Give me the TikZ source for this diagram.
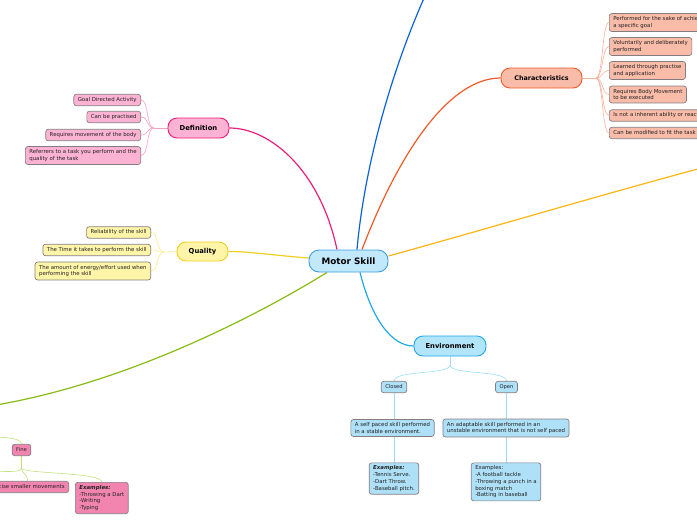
\documentclass[tikz,border=0pt]{standalone}
\usepackage{fontspec}
\setmainfont{DejaVu Sans}
\pgfdeclarelayer{bg}
\pgfsetlayers{bg,main}
\definecolor{msfill}{HTML}{C2E8FB}
\definecolor{msdraw}{HTML}{3D9EE0}
\definecolor{deffill}{HTML}{FCB3D3}
\definecolor{defdraw}{HTML}{EC1E79}
\definecolor{defsub}{HTML}{F9A0C8}
\definecolor{chfill}{HTML}{F9BCA8}
\definecolor{chdraw}{HTML}{F05A28}
\definecolor{chsub}{HTML}{F9B09A}
\definecolor{qfill}{HTML}{FFF5A8}
\definecolor{qdraw}{HTML}{EFCF1F}
\definecolor{qsub}{HTML}{FBE98E}
\definecolor{envfill}{HTML}{B2E5FA}
\definecolor{envdraw}{HTML}{1EA8E8}
\definecolor{envsub}{HTML}{9EDCF7}
\definecolor{envleaf}{HTML}{AEE0F7}
\definecolor{blueline}{HTML}{0B62D6}
\definecolor{orangeline}{HTML}{FDB514}
\definecolor{greenline}{HTML}{88BB14}
\definecolor{finesub}{HTML}{C5E07A}
\definecolor{finefill}{HTML}{F285B0}
\definecolor{leafgray}{HTML}{857C80}
\definecolor{textgray}{HTML}{222222}
\begin{document}
\begin{tikzpicture}[x=1pt,y=-1pt,
  topic/.style={draw, line width=0.9pt, rounded corners=9pt, inner sep=0pt,
    font=\bfseries\fontsize{6.8}{8}\selectfont, text=black},
  leafa/.style={draw=leafgray, line width=0.7pt, rounded corners=2.5pt,
    font=\fontsize{5.4}{6.7}\selectfont, text=textgray, inner xsep=4pt, inner ysep=3pt,
    text height=4.1pt, text depth=1.3pt},
  leafb/.style={draw=leafgray, line width=0.7pt, rounded corners=2.5pt,
    font=\fontsize{5.4}{6.7}\selectfont, text=textgray, inner xsep=4pt, inner ysep=3pt,
    align=left},
  mainline/.style={line width=1.2pt},
  subline/.style={line width=0.6pt}
]
\useasboundingbox (0,0) rectangle (697,520);
\clip (0,0) rectangle (697,520);

% central
\node[topic, fill=msfill, draw=msdraw, minimum width=79pt, minimum height=22pt,
  rounded corners=10pt, font=\bfseries\fontsize{8.8}{10}\selectfont] (ms) at (348.5,261) {Motor Skill};

% main topics
\node[topic, fill=deffill, draw=defdraw, minimum width=61pt, minimum height=20pt] (def) at (198.5,128) {Definition};
\node[topic, fill=chfill, draw=chdraw, minimum width=81pt, minimum height=20pt,
  font=\bfseries\fontsize{6.4}{8}\selectfont] (ch) at (541.5,78) {Characteristics};
\node[topic, fill=qfill, draw=qdraw, minimum width=51pt, minimum height=19pt] (q) at (202.5,251.5) {Quality};
\node[topic, fill=envfill, draw=envdraw, minimum width=72pt, minimum height=20pt] (env) at (450,346) {Environment};

% definition leaves
\node[leafa, fill=deffill, anchor=east] (d1) at (141,100) {Goal Directed Activity};
\node[leafa, fill=deffill, anchor=east] (d2) at (141,117) {Can be practised};
\node[leafa, fill=deffill, anchor=east] (d3) at (141,135) {Requires movement of the body};
\node[leafb, fill=deffill, anchor=east] (d4) at (141,155.5) {Referrers to a task you perform and the\\quality of the task};

% characteristics leaves
\node[leafb, fill=chfill, anchor=west] (c1) at (609,22.5) {Performed for the sake of achieving\\a specific goal};
\node[leafb, fill=chfill, anchor=west] (c2) at (609,46.5) {Voluntarily and deliberately\\performed};
\node[leafb, fill=chfill, anchor=west] (c3) at (609,70.5) {Learned through practise\\and application};
\node[leafb, fill=chfill, anchor=west] (c4) at (609,94.5) {Requires Body Movement\\to be executed};
\node[leafa, fill=chfill, anchor=west] (c5) at (609,115.5) {Is not a inherent ability or reaction};
\node[leafa, fill=chfill, anchor=west] (c6) at (609,133) {Can be modified to fit the task};

% quality leaves
\node[leafa, fill=qfill, anchor=east] (q1) at (151,232.5) {Reliability of the skill};
\node[leafa, fill=qfill, anchor=east] (q2) at (151,250) {The Time it takes to perform the skill};
\node[leafb, fill=qfill, anchor=east] (q3) at (151,271) {The amount of energy/effort used when\\performing the skill};

% environment
\node[leafa, fill=envleaf, font=\fontsize{5.2}{6.5}\selectfont] (closed) at (394,387) {Closed};
\node[leafa, fill=envleaf, font=\fontsize{5.2}{6.5}\selectfont] (open) at (506.5,387) {Open};
\node[leafb, fill=envleaf] (e1) at (392.5,428) {A self paced skill performed\\ in a stable environment.};
\node[leafb, fill=envleaf] (e2) at (506,428) {An adaptable skill performed in an\\unstable environment that is not self paced};
\node[leafb, fill=envleaf, anchor=north] (e3) at (394,462.5) {\textbf{\textit{Examples:}}\\-Tennis Serve.\\-Dart Throw.\\-Baseball pitch.};
\node[leafb, fill=envleaf, anchor=north] (e4) at (506,462.5) {Examples:\\-A football tackle\\-Throwing a punch in a\\boxing match\\-Batting in baseball};

% fine
\node[leafa, fill=finefill, font=\fontsize{5.2}{6.5}\selectfont] (fine) at (21.5,450) {Fine};
\node[leafa, fill=finefill, anchor=east] (f1) at (69,487) {Precise smaller movements};
\node[leafb, fill=finefill, anchor=north west] (f2) at (75,482) {\textbf{\textit{Examples:}}\\-Throwing a Dart\\-Writing\\-Typing};

% off-picture ends
\coordinate (blueEnd) at (430,-15);
\coordinate (orangeEnd) at (720,163);
\coordinate (greenEnd) at (-10,406);
\coordinate (fineIn) at (-15,437);
\coordinate (fineOut) at (-12,472);
\coordinate (defhub) at (154,128);
\coordinate (chhub) at (596,78);
\coordinate (qhub) at (164,252);
\coordinate (envhub) at (450,365);
\coordinate (finehub) at (21.5,468);

\begin{pgfonlayer}{bg}
% main branches
\draw[mainline, defdraw] ([xshift=-11.5pt]ms.north) .. controls (320,170) and (270,128) .. (def.east);
\draw[mainline, blueline] ([xshift=8.5pt]ms.north) .. controls (365,160) and (395,60) .. (blueEnd);
\draw[mainline, chdraw] ([xshift=13.5pt]ms.north) .. controls (400,150) and (450,78) .. (ch.west);
\draw[mainline, orangeline] ([yshift=5pt]ms.east) .. controls (490,228) and (600,195) .. (orangeEnd);
\draw[mainline, qdraw] ([yshift=3pt]ms.west) .. controls (270,255) and (250,251.5) .. (q.east);
\draw[mainline, greenline] ([xshift=-21.5pt]ms.south) .. controls (250,320) and (120,385) .. (greenEnd);
\draw[mainline, envdraw] ([xshift=11.5pt]ms.south) .. controls (372,320) and (392,346) .. (env.west);

% definition sub
\draw[subline, defsub] (def.west) -- (defhub);
\foreach \n in {d1,d2,d3,d4}
  \draw[subline, defsub] (defhub) .. controls +(-8,0) and +(8,0) .. (\n.east);
% characteristics sub
\draw[subline, chsub] (ch.east) -- (chhub);
\foreach \n in {c1,c2,c3,c4,c5,c6}
  \draw[subline, chsub] (chhub) .. controls +(7,0) and +(-7,0) .. (\n.west);
% quality sub
\draw[subline, qsub] (q.west) -- (qhub);
\foreach \n in {q1,q2,q3}
  \draw[subline, qsub] (qhub) .. controls +(-8,0) and +(8,0) .. (\n.east);
% environment sub
\draw[subline, envsub] (env.south) -- (envhub);
\draw[subline, envsub] (envhub) .. controls (450,375) and (394,370) .. (closed.north);
\draw[subline, envsub] (envhub) .. controls (450,375) and (506.5,370) .. (open.north);
\draw[subline, envsub] (closed.south) -- (closed.south |- e1.north);
\draw[subline, envsub] (closed.south |- e1.south) -- (e3.north);
\draw[subline, envsub] (open.south) -- (open.south |- e2.north);
\draw[subline, envsub] (open.south |- e2.south) -- (open.south |- e4.north);
% fine sub
\draw[subline, finesub] (fineIn) .. controls (5,437) and (21.5,438) .. (fine.north);
\draw[subline, finesub] (fine.south) -- (finehub);
\draw[subline, finesub] (finehub) .. controls (21.5,474) and (0,470) .. (fineOut);
\draw[subline, finesub] (finehub) .. controls (21.5,474) and (28,474) .. (f1.north);
\draw[subline, finesub] (finehub) .. controls (21.5,474) and (102.5,472) .. (f2.north);
\end{pgfonlayer}
\end{tikzpicture}
\end{document}
